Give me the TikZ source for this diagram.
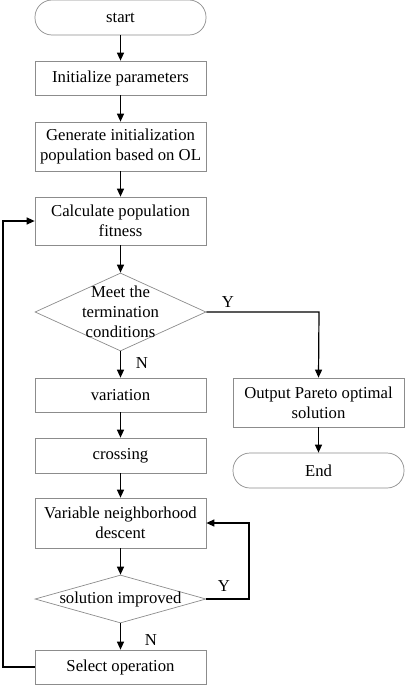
\documentclass[tikz,border=0pt]{standalone}
\usepackage{fontspec}
\setmainfont{Liberation Serif}
\usetikzlibrary{shapes.geometric,arrows.meta}
\begin{document}
\begin{tikzpicture}[x=1pt,y=-1pt,
  every node/.style={font=\fontsize{16.7}{20}\selectfont},
  procbox/.style={draw=black!45,line width=0.7pt,rectangle,minimum width=171pt,inner sep=0pt,align=center},
  termbox/.style={procbox,rounded corners=17pt},
  decbox/.style={draw=black!45,line width=0.7pt,diamond,minimum width=171pt,inner sep=0pt},
  arr/.style={line width=1.2pt,-{Triangle[length=8pt,width=7pt]}},
  lbl/.style={inner sep=0pt}]
\useasboundingbox (0,0) rectangle (405,685);
\node[termbox,minimum height=35pt] (start) at (120.5,17.5) {start};
\node[procbox,minimum height=34pt] (init) at (120.5,78) {Initialize parameters};
\node[procbox,minimum height=49pt] (gen) at (120.5,146.5) {Generate initialization\\population based on OL};
\node[procbox,minimum height=48pt] (calc) at (120.5,221) {Calculate population\\fitness};
\node[decbox,minimum height=78pt] (meet) at (120.5,312) {};
\node[align=center,inner sep=0pt] (meettxt) at (meet.center) {Meet the\\termination\\conditions};
\node[procbox,minimum height=34pt] (var) at (120.5,395) {variation};
\node[procbox,minimum height=35pt] (cross) at (120.5,455.5) {crossing};
\node[procbox,minimum height=50pt] (vnd) at (120.5,523) {Variable neighborhood\\descent};
\node[decbox,minimum height=48pt] (impr) at (120.5,599) {};
\node[inner sep=0pt] (imprtxt) at (impr.center) {solution improved};
\node[procbox,minimum height=34pt] (sel) at (120.5,667) {Select operation};
\node[procbox,minimum height=49pt] (out) at (318.5,402.5) {Output Pareto optimal\\solution};
\node[termbox,minimum height=35pt] (end) at (318.5,470.5) {End};
\coordinate (c1) at (319,312);
\coordinate (c2) at (249,599);
\coordinate (c3) at (249,523);
\coordinate (c4) at (3,667);
\coordinate (c5) at (3,221);
\draw[arr] (start) -- (init);
\draw[arr] (init) -- (gen);
\draw[arr] (gen) -- (calc);
\draw[arr] (calc) -- (meet);
\draw[arr] (meet) -- (var);
\draw[arr] (var) -- (cross);
\draw[arr] (cross) -- (vnd);
\draw[arr] (vnd) -- (impr);
\draw[arr] (impr) -- (sel);
\draw[arr] (out) -- (end);
\draw[arr] (meet.east) -- (c1) -- (out.north);
\draw[arr] (impr.east) -- (c2) -- (c3) -- (vnd.east);
\draw[arr] (sel.west) -- (c4) -- (c5) -- (calc.west);
\node[lbl] (y1) at (228,302) {Y};
\node[lbl] (n1) at (142,363) {N};
\node[lbl] (y2) at (224,586) {Y};
\node[lbl] (n2) at (151,640) {N};
\end{tikzpicture}
\end{document}
